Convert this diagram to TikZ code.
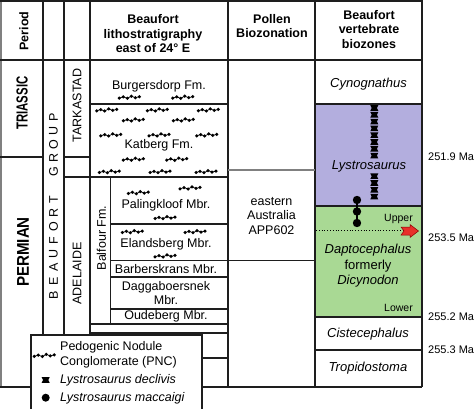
\documentclass[tikz,border=0pt]{standalone}
\usepackage{fontspec}
\setmainfont{Liberation Sans}
\definecolor{lysfill}{HTML}{B3AEDE}
\definecolor{dapfill}{HTML}{A9D994}
\definecolor{arrowred}{HTML}{E8302A}
\definecolor{linecol}{HTML}{1E1E1E}
\tikzset{
  pics/pnc/.style={code={
    \draw[line width=0.7pt] (-10,0.8) -- (-6,-0.4) -- (-2,1) -- (2,-1.1) -- (6,0.4) -- (10,-0.6);
    \foreach \px/\py in {-10/0.8,-6/-0.4,-2/1,2/-1.1,6/0.4,10/-0.6}{\fill (\px,\py) circle (1.75);}
  }},
  pics/bobbin/.style={code={
    \fill (-4,-2.8) -- (4,-2.8) .. controls (2.2,0) .. (4,2.8) -- (-4,2.8) .. controls (-2.2,0) .. (-4,-2.8) -- cycle;
  }}
}
\begin{document}
\begin{tikzpicture}[x=1pt,y=-1pt,
  grid/.style={line width=1.5pt, linecol},
  heavy/.style={line width=2.2pt, linecol},
  body/.style={font=\fontsize{12.5}{14.8}\selectfont, inner sep=0pt, align=center},
  head/.style={font=\bfseries\fontsize{12.5}{14.6}\selectfont, inner sep=0pt, align=center},
  zone/.style={font=\itshape\fontsize{13}{15.8}\selectfont, inner sep=0pt, align=center},
  agelab/.style={font=\fontsize{11}{13}\selectfont, inner sep=0pt, anchor=west},
  sublab/.style={font=\fontsize{10.5}{12}\selectfont, inner sep=0pt, anchor=east},
  leg/.style={font=\fontsize{12.5}{15}\selectfont, inner sep=0pt, anchor=west, align=left},
]
\useasboundingbox (0,0) rectangle (474,409);
\fill[white] (0,0) rectangle (474,409);

% zone fills
\fill[lysfill] (315,104) rectangle (422,206);
\fill[dapfill] (315,206) rectangle (422,317);

% vertical lines
\draw[line width=1.5pt, gray] (1,0) -- (1,387);
\draw[grid] (43,0) -- (43,387);
\draw[grid] (64,0) -- (64,387);
\draw[grid] (90,0) -- (90,387);
\draw[grid] (228,0) -- (228,387);
\draw[heavy] (315,0) -- (315,387);
\draw[heavy] (422,0) -- (422,387);

% top, header and bottom
\draw[heavy] (0,1) -- (422,1);
\draw[heavy] (0,60) -- (422,60);
\draw[grid] (0,387) -- (422,387);

% period / tarkastad
\draw[heavy] (0,157) -- (43,157);
\draw[heavy] (64,157) -- (90,157);
\draw[grid] (64,177) -- (90,177);

% lithostratigraphy
\draw[grid] (90,104) -- (228,104);
\draw[grid] (90,177) -- (228,177);
\draw[grid] (110.7,177) -- (110.7,324);
\draw[grid] (110.7,224) -- (228,224);
\draw[grid] (110.7,260.5) -- (228,260.5);
\draw[grid] (110.7,277) -- (228,277);
\draw[grid] (110.7,309) -- (228,309);
\draw[grid] (90,324) -- (228,324);
\draw[grid] (90,333) -- (228,333);
\draw[grid] (202,358) -- (228,358);

% pollen
\draw[line width=1.3pt, gray] (228,170) -- (315,170);
\draw[grid] (228,260.5) -- (315,260.5);

% vertebrate
\draw[grid] (315,104) -- (422,104);
\draw[heavy] (315,206) -- (422,206);
\draw[grid] (315,317) -- (422,317);
\draw[grid] (315,350) -- (422,350);
\draw[line width=1pt, dash pattern=on 1pt off 1.8pt] (316,230) -- (416,230);

% headers
\node[head, rotate=90] (hperiod) at (24,31) {Period};
\node[head] (hlitho) at (153,33.6) {Beaufort\\lithostratigraphy\\east of 24° E};
\node[head] (hpollen) at (272,26.2) {Pollen\\Biozonation};
\node[head] (hvert) at (369,29.5) {Beaufort\\vertebrate\\biozones};

% periods
\node[font=\bfseries\fontsize{16}{16}\selectfont, inner sep=0pt, rotate=90] (triassic) at (22,103) {\scalebox{0.71}[1]{TRIASSIC}};
\node[font=\bfseries\fontsize{17}{17}\selectfont, inner sep=0pt, rotate=90] (permian) at (23,252) {\scalebox{0.89}[1]{PERMIAN}};

% Beaufort Group letters
\foreach \ch/\yy [count=\i] in {B/295,E/281.3,A/267.7,U/254,F/240.3,O/226.7,R/213,T/199.3,G/172,R/158.3,O/144.7,U/131,P/117.3}{
  \node[body, rotate=90] (bg\i) at (53.5,\yy) {\ch};
}
\node[body, rotate=90] (tark) at (77,105.5) {TARKASTAD};
\node[body, rotate=90] (adel) at (77,273.5) {ADELAIDE};
\node[body, rotate=90] (balf) at (101.5,238) {Balfour Fm.};

% litho units
\node[body] (burg) at (159,86.7) {Burgersdorp Fm.};
\node[body] (katb) at (159,145.7) {Katberg Fm.};
\node[body] (paling) at (166,205) {Palingkloof Mbr.};
\node[body] (eland) at (166,244) {Elandsberg Mbr.};
\node[body] (barb) at (166,269) {Barberskrans Mbr.};
\node[body] (dagga) at (166,293) {Daggaboersnek\\Mbr.};
\node[body] (oude) at (166,316) {Oudeberg Mbr.};

% PNC symbols
\foreach \sx/\sy in {129.3/97.3,182.7/97.3,
  106.7/110,157.3/110,208.3/110,133.3/120,183.3/120,
  110.7/135,159/135,206.7/135,133.3/159.3,176.7/159.3,
  109.3/171.7,160/171.7,206/171.7,
  138.3/192.7,190/188,165/217.7,
  132.3/231.7,195/231.7,165/256}{
  \pic at (\sx,\sy) {pnc};
}

% pollen
\node[body] (pollen) at (271.5,216) {eastern\\Australia\\APP602};

% vertebrate zones
\node[zone] (cyno) at (368.5,84) {Cynognathus};
\foreach \yy in {108,114.8,121.6,128.4,135.2,142,148.8,155.6,176.2,183,189.8,196.6}{
  \pic at (374.3,\yy) {bobbin};
}
\node[zone] (lystro) at (369,166) {Lystrosaurus};
\draw[line width=2.5pt] (357,200) -- (357,223);
\foreach \yy in {200,211.5,223}{\fill (357,\yy) circle (4.2);}
\node[sublab] (upper) at (413,219) {Upper};
\node[zone] (dapto) at (368,265.8) {Daptocephalus\\{\upshape formerly}\\Dicynodon};
\node[sublab] (lower) at (413,308) {Lower};
\node[zone] (cist) at (368,334) {Cistecephalus};
\node[zone] (tropi) at (368,368) {Tropidostoma};

% red arrow
\fill[arrowred, draw=red!55!black, line width=0.5pt] (401,227) -- (410,227) -- (410,224.5) -- (418.5,231) -- (410,237.5) -- (410,235) -- (401,235) -- (404,231) -- cycle;

% ages
\node[agelab] (a1) at (428,157) {251.9 Ma};
\node[agelab] (a2) at (428,238) {253.5 Ma};
\node[agelab] (a3) at (428,316.7) {255.2 Ma};
\node[agelab] (a4) at (428,350) {255.3 Ma};

% legend
\draw[grid, fill=white] (31,335) rectangle (202,425);
\pic at (44.3,355.5) {pnc};
\node[leg] (lg1) at (60,354.5) {Pedogenic Nodule\\Conglomerate (PNC)};
\pic at (45.7,380) {bobbin};
\node[leg, font=\itshape\fontsize{12.5}{15}\selectfont] (lg2) at (60,380) {Lystrosaurus declivis};
\fill (45.7,397.7) circle (4);
\node[leg, font=\itshape\fontsize{12.5}{15}\selectfont] (lg3) at (60,398) {Lystrosaurus maccaigi};
\end{tikzpicture}
\end{document}
